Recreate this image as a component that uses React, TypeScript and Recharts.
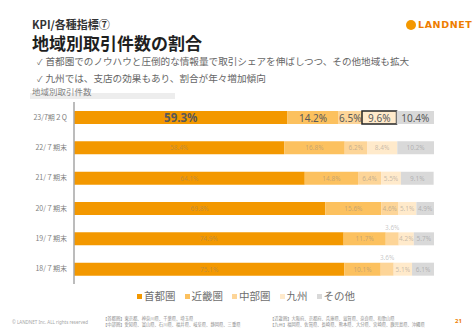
import React from 'react';
import { BarChart, Bar, XAxis, YAxis, Legend, LabelList, Cell } from 'recharts';

const periods = ['23/7期２Q', '22/７期末', '21/７期末', '20/７期末', '19/７期末', '18/７期末'];
const regions = ['首都圏', '近畿圏', '中部圏', '九州', 'その他'];
const regionColors = ['#F39800', '#FCC15F', '#FDD598', '#FFEACB', '#D9D9D9'];

const shutoken = [59.3, 58.4, 64.1, 69.8, 74.9, 75.1];
const kinki = [14.2, 16.8, 14.8, 15.6, 11.7, 10.1];
const chubu = [6.5, 6.2, 6.4, 4.6, 3.6, 3.6];
const kyushu = [9.6, 8.4, 5.5, 5.1, 4.2, 5.1];
const other = [10.4, 10.2, 9.1, 4.9, 5.7, 6.1];

const seriesValues = [shutoken, kinki, chubu, kyushu, other];
const data = periods.map((p, i) => {
  const row: any = { name: p };
  regions.forEach((r, k) => (row[r] = seriesValues[k][i]));
  return row;
});

const NUM_FONT = '"Noto Sans", sans-serif';
const JP_FONT = '"Noto Sans CJK JP", "Noto Sans", sans-serif';

const makeLabel = (seriesIndex: number) => (props: any) => {
  const vb = props.viewBox || props;
  const { x, y, width, height } = vb;
  const idx = props.index;
  const text = `${Number(props.value).toFixed(1)}%`;
  const cx = x + width / 2;
  let cy = y + height / 2;
  if (idx === 0) {
    return (
      <text x={cx} y={cy} textAnchor="middle" dominantBaseline="central"
        fontFamily={NUM_FONT} fontSize={seriesIndex === 0 ? 11.5 : 10}
        fontWeight={seriesIndex === 0 ? 700 : 400} fill="#595959">
        {text}
      </text>
    );
  }
  // small 中部圏 share drawn above the bar
  if (seriesIndex === 2 && props.value < 4) cy = y - 5;
  return (
    <text x={cx} y={cy} textAnchor="middle" dominantBaseline="central"
      fontFamily={NUM_FONT} fontSize={6.5} fill="#7F7F7F" fillOpacity={0.45}>
      {text}
    </text>
  );
};

const CustomLegend = () => (
  <div style={{ display: 'flex', paddingLeft: 137, fontFamily: JP_FONT, fontSize: 10.5, color: '#6E6E6E', lineHeight: '12px' }}>
    {regions.map((r, i) => (
      <div key={r} style={{ display: 'flex', alignItems: 'center', marginRight: 9 }}>
        <span style={{ width: 5, height: 5, background: regionColors[i], marginRight: 2, display: 'inline-block' }} />
        <span>{r}</span>
      </div>
    ))}
  </div>
);

const abs = (left: number, top: number, extra: any = {}) => ({
  position: 'absolute' as const, left, top, lineHeight: 1, whiteSpace: 'nowrap' as const, ...extra,
});

export default function App() {
  return (
    <div style={{ position: 'absolute', left: 0, top: 0, width: 474, height: 335, background: '#fff', overflow: 'hidden', fontFamily: JP_FONT }}>
      <div style={abs(32, 18.5, { fontSize: 11, fontWeight: 700, color: '#333' })}>KPI/各種指標⑦</div>
      <div style={abs(32, 34, { fontSize: 17, fontWeight: 700, color: '#1F1F1F' })}>地域別取引件数の割合</div>
      <div style={abs(37, 57, { fontSize: 9.6, color: '#666' })}>
        <span style={{ fontSize: 8 }}>✓</span><span style={{ marginLeft: 3 }}>首都圏でのノウハウと圧倒的な情報量で取引シェアを伸ばしつつ、その他地域も拡大</span>
      </div>
      <div style={abs(37, 74, { fontSize: 9.6, color: '#666' })}>
        <span style={{ fontSize: 8 }}>✓</span><span style={{ marginLeft: 3 }}>九州では、支店の効果もあり、割合が年々増加傾向</span>
      </div>

      {/* logo */}
      <div style={abs(406, 20, { display: 'flex', alignItems: 'center' })}>
        <span style={{ width: 10, height: 10, borderRadius: 5, background: '#F39800', display: 'inline-block', marginRight: 2 }} />
        <span style={{ fontFamily: '"DejaVu Sans", sans-serif', fontSize: 9.5, fontWeight: 700, color: '#EE7D00', letterSpacing: 0.6 }}>LANDNET</span>
      </div>

      <div style={{ position: 'absolute', left: 30, top: 93, width: 145, height: 6, background: '#EDEDED' }} />
      <div style={abs(32, 87, { fontSize: 8.5, color: '#7F7F7F' })}>地域別取引件数</div>

      <div style={{ position: 'absolute', left: 0, top: 0 }}>
        <BarChart width={474} height={335} data={data} layout="vertical"
          margin={{ top: 102, right: 40, bottom: 39, left: 0 }} barSize={13}>
          <XAxis type="number" domain={[0, 100]} allowDataOverflow hide />
          <YAxis type="category" dataKey="name" width={74} tickLine={false} tickSize={5} tickMargin={2}
            axisLine={{ stroke: '#A6A6A6', strokeWidth: 1.5 }}
            tick={{ fontSize: 7, fill: '#7F7F7F', fontFamily: JP_FONT }} />
          <Legend content={<CustomLegend />} wrapperStyle={{ position: 'absolute', top: 290, left: 0, width: 474 }} />
          {regions.map((r, i) => (
            <Bar key={r} dataKey={r} stackId="a" fill={regionColors[i]} isAnimationActive={false}>
              {i === 3 && data.map((_, j) => (
                <Cell key={j} fill={regionColors[i]} stroke={j === 0 ? '#262626' : 'none'} strokeWidth={j === 0 ? 1.5 : 0} />
              ))}
              <LabelList dataKey={r} content={makeLabel(i)} />
            </Bar>
          ))}
        </BarChart>
      </div>

      {/* footer */}
      <div style={abs(12, 320, { fontFamily: NUM_FONT, fontSize: 4.5, color: '#A6A6A6' })}>© LANDNET Inc. ALL rights reserved</div>
      <div style={abs(103, 316, { fontSize: 4.3, color: '#8C8C8C', lineHeight: '5.5px' })}>
        <div>【首都圏】東京都、神奈川県、千葉県、埼玉県</div>
        <div>【中部圏】愛知県、富山県、石川県、福井県、岐阜県、静岡県、三重県</div>
      </div>
      <div style={abs(270, 316, { fontSize: 4.3, color: '#8C8C8C', lineHeight: '5.5px' })}>
        <div>【近畿圏】大阪府、京都府、兵庫県、滋賀県、奈良県、和歌山県</div>
        <div>【九州】福岡県、佐賀県、長崎県、熊本県、大分県、宮崎県、鹿児島県、沖縄県</div>
      </div>
      <div style={abs(455, 318, { fontFamily: NUM_FONT, fontSize: 6, fontWeight: 700, color: '#EE7D00' })}>21</div>
    </div>
  );
}
